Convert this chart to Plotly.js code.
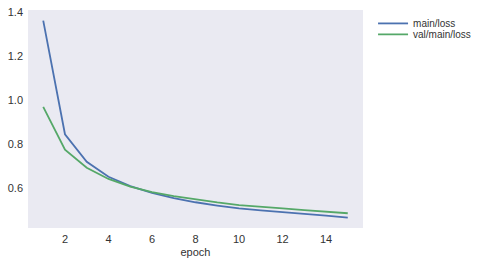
<!DOCTYPE html>
<html>
<head>
<meta charset="utf-8">
<script src="https://cdn.plot.ly/plotly-3.0.1.min.js"></script>
<style>html,body{margin:0;padding:0;background:#fff;}#chart{width:480px;height:266px;}</style>
</head>
<body>
<div id="chart"></div>
<script>
const epochs = [1,2,3,4,5,6,7,8,9,10,11,12,13,14,15];
const mainLoss = [1.36,0.843,0.718,0.650,0.607,0.577,0.553,0.534,0.519,0.506,0.497,0.490,0.482,0.473,0.464];
const valMainLoss = [0.968,0.773,0.691,0.640,0.605,0.580,0.562,0.547,0.533,0.521,0.512,0.506,0.498,0.490,0.484];
const seriesNames = ['main/loss','val/main/loss'];
const xTicks = [2,4,6,8,10,12,14];
const yTicks = [0.6,0.8,1.0,1.2,1.4];
const yTickText = ['0.6','0.8','1.0','1.2','1.4'];

const data = [
  {x: epochs, y: mainLoss, name: seriesNames[0], legend:'legend', type:'scatter', mode:'lines', line:{color:'#4c72b0', width:1.8}},
  {x: epochs, y: valMainLoss, name: seriesNames[1], legend:'legend2', type:'scatter', mode:'lines', line:{color:'#55a868', width:1.8}}
];
const legendBase = {x:1.03, xanchor:'left', yanchor:'top', font:{size:10, color:'#333'}, bgcolor:'rgba(0,0,0,0)'};
const layout = {
  width:480, height:266,
  margin:{l:28, r:117, t:10, b:38, autoexpand:false},
  paper_bgcolor:'#ffffff', plot_bgcolor:'#eaeaf2',
  font:{family:'Liberation Sans, Arial, sans-serif', size:11, color:'#333'},
  xaxis:{range:[0.3,15.7], tickvals:xTicks, showgrid:false, zeroline:false, showline:false, ticks:'', ticklabelstandoff:3,
         title:{text:'epoch', font:{size:11, color:'#333'}, standoff:4}},
  yaxis:{range:[0.417,1.408], tickvals:yTicks, ticktext:yTickText, showgrid:false, zeroline:false, showline:false, ticks:'', ticklabelstandoff:4},
  showlegend:true,
  legend:Object.assign({}, legendBase, {y:1.005}),
  legend2:Object.assign({}, legendBase, {y:0.955})
};
Plotly.newPlot('chart', data, layout, {staticPlot:true, displayModeBar:false});
</script>
</body>
</html>
